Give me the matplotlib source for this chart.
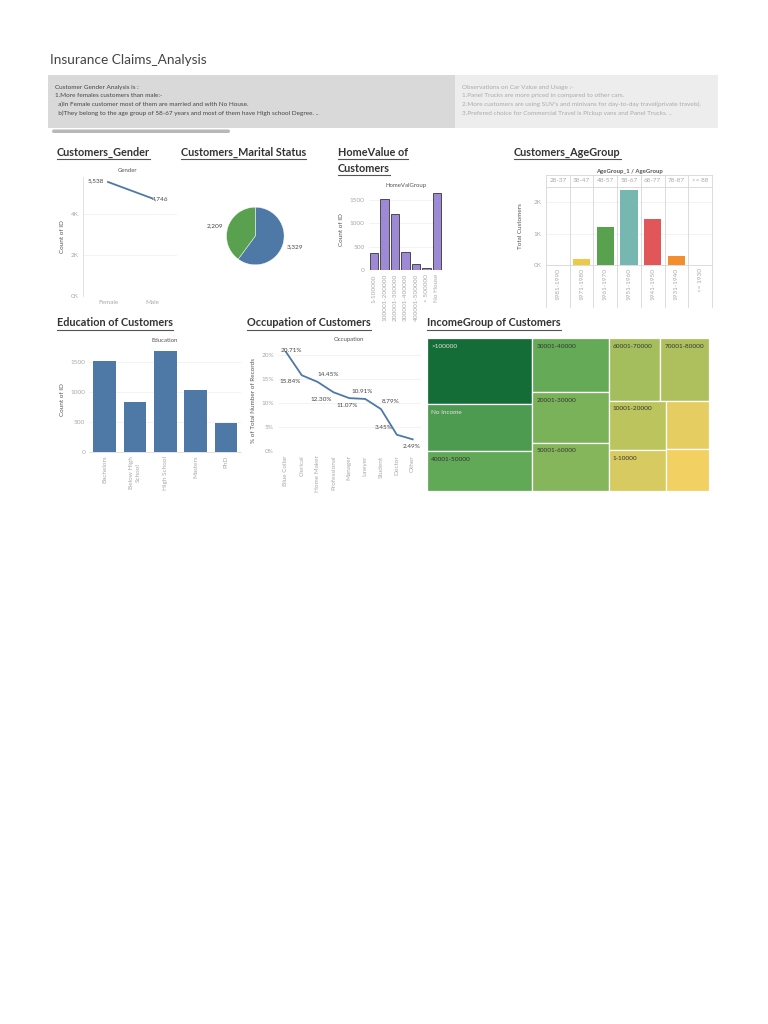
import matplotlib
matplotlib.use("Agg")
import matplotlib.pyplot as plt
from matplotlib.lines import Line2D
from matplotlib.patches import Rectangle, FancyBboxPatch
from matplotlib.colors import LinearSegmentedColormap, Normalize
import matplotlib.transforms as mtrans

W, H = 768, 1024

# ── 데이터 ────────────────────────────────────────────────
gender = ["Female", "Male"]
gender_count = [5538, 4746]

marital_labels = ["3,329", "2,209"]
marital_count = [3329, 2209]

homeval_groups = ["1-100000", "100001-200000", "200001-300000", "300001-400000",
                  "400001-500000", "> 500000", "No House"]
homeval_count = [371, 1521, 1200, 393, 129, 43, 1643]

age_groups = ["28-37", "38-47", "48-57", "58-67", "68-77", "78-87", ">= 88"]
birth_years = ["1981-1990", "1971-1980", "1961-1970", "1951-1960",
               "1941-1950", "1931-1940", "<= 1930"]
age_count = [0, 179, 1210, 2389, 1474, 274, 0]

education = ["Bachelors", "Below High\nSchool", "High School", "Masters", "PhD"]
education_count = [1511, 822, 1683, 1028, 478]

occupation = ["Blue Collar", "Clerical", "Home Maker", "Professional", "Manager",
              "Lawyer", "Student", "Doctor", "Other"]
occupation_pct = [20.71, 15.84, 14.45, 12.30, 11.07, 10.91, 8.79, 3.45, 2.49]

income_groups = [">100000", "No Income", "40001-50000", "30001-40000", "20001-30000",
                 "50001-60000", "60001-70000", "70001-80000", "10001-20000", "1-10000",
                 "80001-90000", "90001-100000"]
income_count = [1610, 1157, 973, 960, 892, 858, 752, 716, 667, 545, 481, 424]
income_hidden = {"80001-90000", "90001-100000"}

left_note = [
    "Customer Gender Analysis is :",
    "1.More females customers than male:-",
    "  a)In Female customer most of them are married and with No House.",
    "  b)They belong to the age group of 58-67 years and most of them have High school Degree. ..",
]
right_note = [
    "Observations on Car Value and Usage :-",
    "1.Panel Trucks are more priced in compared to other cars.",
    "2.More customers are using SUV's and minivans for day-to-day travel(private travels).",
    "3.Prefered choice for Commercial Travel is Pickup vans and Panel Trucks. ..",
]

# ── 스타일 ────────────────────────────────────────────────
plt.rcParams["font.family"] = ["Lato", "DejaVu Sans"]
BLUE = "#4e79a7"
GREEN = "#59a14f"
TICK = "#a8a8a8"
LAB = "#555555"
FS = 4.6

fig = plt.figure(figsize=(W / 100, H / 100), dpi=100)


def px_axes(x0, y0, x1, y1):
    return fig.add_axes([x0 / W, 1 - y1 / H, (x1 - x0) / W, (y1 - y0) / H])


def ftext(x, y, s, **kw):
    return fig.text(x / W, 1 - y / H, s, **kw)


def frect(x0, y0, x1, y1, **kw):
    fig.add_artist(Rectangle((x0 / W, 1 - y1 / H), (x1 - x0) / W, (y1 - y0) / H,
                             transform=fig.transFigure, **kw))


def style_axes(ax):
    for s in ["top", "right"]:
        ax.spines[s].set_visible(False)
    for s in ["left", "bottom"]:
        ax.spines[s].set_color("#dddddd")
        ax.spines[s].set_linewidth(0.6)
    ax.tick_params(length=0, labelsize=FS, labelcolor=TICK, pad=3)
    ax.grid(axis="y", color="#eeeeee", linewidth=0.5)
    ax.set_axisbelow(True)
    ax.set_facecolor("none")


# ── 상단 제목 / 메모 ──────────────────────────────────────
ftext(50, 60, "Insurance Claims_Analysis", fontsize=9.8, color="#444444", va="center")
frect(48, 75, 455, 128, facecolor="#d9d9d9", edgecolor="none")
frect(455, 75, 718, 128, facecolor="#ededed", edgecolor="none")
for i, line in enumerate(left_note):
    ftext(55, 87 + i * 8.7, line, fontsize=4.6, color="#444444", va="center")
for i, line in enumerate(right_note):
    ftext(462, 87 + i * 8.7, line, fontsize=4.6, color="#aaaaaa", va="center")
fig.add_artist(FancyBboxPatch((52 / W, 1 - 133 / H), 178 / W, 3.5 / H,
                              boxstyle="round,pad=0,rounding_size=0.002",
                              transform=fig.transFigure, facecolor="#b8b8b8",
                              edgecolor="none"))

titles = []


def title(x, y, s):
    t = ftext(x, y, s, fontsize=7.8, color="#333333", va="center", fontweight="bold")
    titles.append(t)


title(57, 152, "Customers_Gender")
title(181, 152, "Customers_Marital Status")
title(338, 152, "HomeValue of")
title(338, 168, "Customers")
title(514, 152, "Customers_AgeGroup")
title(57, 323, "Education of Customers")
title(247, 323, "Occupation of Customers")
title(427, 323, "IncomeGroup of Customers")

# ── Gender ────────────────────────────────────────────────
ax = px_axes(83, 177, 177, 296)
style_axes(ax)
ax.plot(range(len(gender)), gender_count, color=BLUE, linewidth=1.3)
ax.set_xlim(-0.57, 1.57)
ax.set_ylim(0, 5780)
ax.set_yticks([0, 2000, 4000])
ax.set_yticklabels(["0K", "2K", "4K"])
ax.set_xticks(range(len(gender)))
ax.set_xticklabels(gender)
ax.spines["bottom"].set_visible(False)
ax.annotate(f"{gender_count[0]:,}", (0, gender_count[0]), xytext=(-3, 1),
            textcoords="offset points", ha="right", va="center", fontsize=FS, color="#444444")
ax.annotate(f"{gender_count[1]:,}", (1, gender_count[1]), xytext=(0, 0),
            textcoords="offset points", ha="left", va="center", fontsize=FS, color="#444444")
ax.set_ylabel("Count of ID", fontsize=FS, color=LAB, labelpad=4)
ftext(128, 170, "Gender", fontsize=4.3, color=LAB, ha="center", va="center")

# ── Marital Status (pie) ──────────────────────────────────
ax = px_axes(255.3 - 36, 236 - 36, 255.3 + 36, 236 + 36)
wedges, texts = ax.pie(marital_count, colors=[BLUE, GREEN], startangle=90,
                       counterclock=False, labels=marital_labels, labeldistance=1.16,
                       textprops=dict(fontsize=FS, color="#444444"),
                       wedgeprops=dict(edgecolor="white", linewidth=0.3))
ax.set_aspect("equal")

# ── HomeValue ─────────────────────────────────────────────
ax = px_axes(369, 190, 442, 270)
style_axes(ax)
ax.bar(range(len(homeval_groups)), homeval_count, width=0.8, color="#9d89d5",
       edgecolor="#4a4a4a", linewidth=0.7)
ax.set_xlim(-0.5, len(homeval_groups) - 0.5)
ax.set_ylim(0, 1714)
ax.set_yticks([0, 500, 1000, 1500])
ax.set_xticks(range(len(homeval_groups)))
ax.set_xticklabels(homeval_groups, rotation=90)
ax.spines["bottom"].set_visible(False)
ax.spines["left"].set_visible(False)
ax.set_ylabel("Count of ID", fontsize=FS, color=LAB, labelpad=4)
ftext(406, 185, "HomeValGroup", fontsize=4.3, color=LAB, ha="center", va="center")

# ── AgeGroup ──────────────────────────────────────────────
ax = px_axes(546, 186.7, 712, 265)
style_axes(ax)
age_colors = [BLUE, "#edc948", GREEN, "#76b7b2", "#e15759", "#f28e2b", "#b07aa1"]
ax.bar(range(len(age_groups)), age_count, width=0.74, color=age_colors)
ax.set_xlim(-0.5, len(age_groups) - 0.5)
ax.set_ylim(0, 2486)
ax.set_yticks([0, 1000, 2000])
ax.set_yticklabels(["0K", "1K", "2K"])
ax.set_xticks([])
ax.spines["left"].set_visible(False)
ax.spines["bottom"].set_visible(False)
trans = mtrans.blended_transform_factory(ax.transData, ax.transAxes)
top_hdr = (265 - 175) / 78.3
bot_lbl = (265 - 307) / 78.3
for k in range(len(age_groups) + 1):
    ax.add_line(Line2D([k - 0.5, k - 0.5], [bot_lbl, top_hdr], transform=trans,
                       color="#d6d6d6", linewidth=0.6, clip_on=False))
for yy in (top_hdr, 1.0, 0.0):
    ax.add_line(Line2D([-0.5, len(age_groups) - 0.5], [yy, yy], transform=trans,
                       color="#d6d6d6", linewidth=0.6, clip_on=False))
for i, (g, b) in enumerate(zip(age_groups, birth_years)):
    ax.text(i, (1.0 + top_hdr) / 2, g, transform=trans, ha="center", va="center",
            fontsize=FS, color=TICK)
    ax.text(i, -0.04, b, transform=trans, ha="center", va="top", rotation=90,
            fontsize=FS, color=TICK)
ax.set_ylabel("Total Customers", fontsize=FS, color=LAB, labelpad=8)
ftext(629, 171, "AgeGroup_1 / AgeGroup", fontsize=4.3, color=LAB, ha="center",
      va="center", fontweight="bold")

# ── Education ─────────────────────────────────────────────
ax = px_axes(89.3, 346.7, 241.3, 451.7)
style_axes(ax)
ax.bar(range(len(education)), education_count, width=0.74, color=BLUE)
ax.set_xlim(-0.5, len(education) - 0.5)
ax.set_ylim(0, 1750)
ax.set_yticks([0, 500, 1000, 1500])
ax.set_xticks(range(len(education)))
ax.set_xticklabels(education, rotation=90)
ax.spines["left"].set_visible(False)
ax.set_ylabel("Count of ID", fontsize=FS, color=LAB, labelpad=4)
ftext(165, 340, "Education", fontsize=4.3, color=LAB, ha="center", va="center")

# ── Occupation ────────────────────────────────────────────
ax = px_axes(278, 350, 420.6, 451.3)
style_axes(ax)
ax.plot(range(len(occupation)), occupation_pct, color=BLUE, linewidth=1.3)
ax.set_xlim(-0.5, len(occupation) - 0.5)
ax.set_ylim(0, 21.1)
ax.set_yticks([0, 5, 10, 15, 20])
ax.set_yticklabels(["0%", "5%", "10%", "15%", "20%"])
ax.set_xticks(range(len(occupation)))
ax.set_xticklabels(occupation, rotation=90)
ax.spines["left"].set_visible(False)
ax.spines["bottom"].set_visible(False)
occ_offsets = [(6, 1), (-12, -6), (11, 7.5), (-12, -7), (-2, -7), (-2.5, 7), (10, 7.5),
               (-13, 7.5), (-1.5, -7.5)]
for i, (v, off) in enumerate(zip(occupation_pct, occ_offsets)):
    ax.annotate(f"{v:.2f}%", (i, v), xytext=(off[0] * 0.72, off[1] * 0.72),
                textcoords="offset points", ha="center", va="center",
                fontsize=FS, color="#444444")
ax.set_ylabel("% of Total Number of Records", fontsize=FS, color=LAB, labelpad=4)
ftext(349, 340, "Occupation", fontsize=4.3, color=LAB, ha="center", va="center")

# ── IncomeGroup (treemap) ─────────────────────────────────
tx0, ty0, tx1, ty1 = 427.3, 338.3, 709.3, 491
tw, th = tx1 - tx0, ty1 - ty0
ax = px_axes(tx0, ty0, tx1, ty1)
ax.set_xlim(0, tw)
ax.set_ylim(th, 0)
ax.axis("off")


def worst(row, side):
    s = sum(row)
    return max(max(side * side * r / (s * s), s * s / (side * side * r)) for r in row)


def squarify(vals, x, y, w, h, out):
    if not vals:
        return
    if len(vals) == 1:
        out.append((x, y, w, h))
        return
    side = min(w, h)
    row = [vals[0]]
    i = 1
    while i < len(vals) and worst(row + [vals[i]], side) <= worst(row, side):
        row.append(vals[i])
        i += 1
    s = sum(row)
    if w >= h:
        cw = s / h
        yy = y
        for r in row:
            out.append((x, yy, cw, r / cw))
            yy += r / cw
        squarify(vals[i:], x + cw, y, w - cw, h, out)
    else:
        rh = s / w
        xx = x
        for r in row:
            out.append((xx, y, r / rh, rh))
            xx += r / rh
        squarify(vals[i:], x, y + rh, w, h - rh, out)


scale = tw * th / sum(income_count)
areas = [v * scale for v in income_count]
rects = []
cx = 0
for grp in (areas[0:3], areas[3:6]):
    cw = sum(grp) / th
    cy = 0
    for a in grp:
        rects.append((cx, cy, cw, a / cw))
        cy += a / cw
    cx += cw
squarify(areas[6:], cx, 0, tw - cx, th, rects)

cmap = LinearSegmentedColormap.from_list(
    "greengold", [(0, "#f2d062"), (0.2, "#bdc45e"), (0.35, "#8cb85c"),
                  (0.46, "#62a957"), (0.62, "#4d9b50"), (1.0, "#146c36")])
norm = Normalize(min(income_count), max(income_count))
for name, v, (x, y, w, h) in zip(income_groups, income_count, rects):
    ax.add_patch(Rectangle((x, y), w, h, facecolor=cmap(norm(v)), edgecolor="white",
                           linewidth=0.9))
    if name not in income_hidden:
        ax.text(x + 4, y + 8, name, fontsize=FS,
                color="#e6e6e6" if norm(v) > 0.55 else "#333333", va="center")

# ── 제목 밑줄 ─────────────────────────────────────────────
fig.canvas.draw()
r = fig.canvas.get_renderer()
for t in titles:
    bb = t.get_window_extent(r)
    fig.add_artist(Line2D([bb.x0 / W, bb.x1 / W], [(bb.y0 - 1.5) / H] * 2,
                          transform=fig.transFigure, color="#555555", linewidth=0.8))

fig.savefig("out.png", dpi=100, facecolor="white")
